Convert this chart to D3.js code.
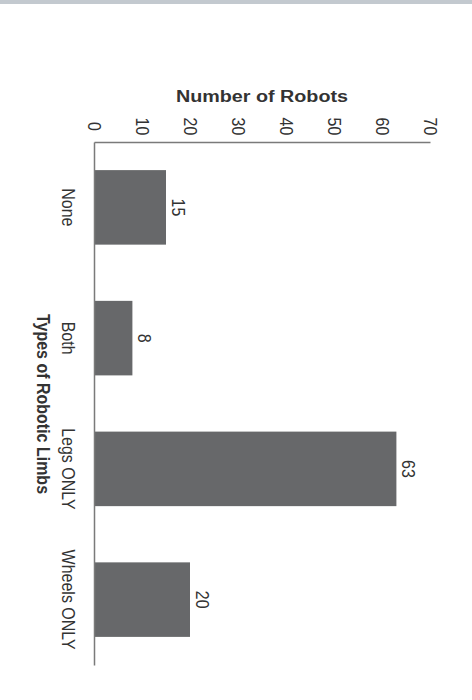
<!DOCTYPE html>
<html>
<head>
<meta charset="utf-8">
<script src="https://cdn.jsdelivr.net/npm/d3@7"></script>
<style>
  html, body { margin: 0; padding: 0; background: #fff; }
  svg { display: block; font-family: "Liberation Sans", Arial, sans-serif; }
</style>
</head>
<body>
<div id="chart"></div>
<script>
// Data
const categories = ['None', 'Both', 'Legs ONLY', 'Wheels ONLY'];
const robotCounts = [15, 8, 63, 20];
const valueTicks = [0, 10, 20, 30, 40, 50, 60, 70];

const width = 472;
const height = 700;
const textColor = '#333';
const axisColor = '#7a7a7a';
const barColor = '#67686a';
const stretch = 1.15; // the picture is a bit wider than tall

const svg = d3.select('#chart')
    .append('svg')
    .attr('width', width)
    .attr('height', height);

// thin grey strip at the top of the scan
svg.append('rect')
    .attr('x', 0)
    .attr('y', 0)
    .attr('width', width)
    .attr('height', 4)
    .attr('fill', '#c3c9cf');

// chart is turned a quarter clockwise: values run left to right, categories top to bottom
const xScale = d3.scaleLinear()
    .domain([0, 70])
    .range([94, 430]);

const yScale = d3.scaleBand()
    .domain(categories)
    .range([142, 665])
    .paddingInner(0.43)
    .paddingOuter(0.215);

const data = categories.map((c, i) => ({ category: c, value: robotCounts[i] }));

// bars
svg.selectAll('.bar')
    .data(data)
    .enter()
    .append('rect')
    .attr('class', 'bar')
    .attr('x', xScale(0))
    .attr('y', d => yScale(d.category))
    .attr('width', d => xScale(d.value) - xScale(0))
    .attr('height', yScale.bandwidth())
    .attr('fill', barColor);

// value axis along the top
const xAxis = svg.append('g')
    .attr('class', 'x-axis')
    .attr('transform', 'translate(0, 142)')
    .call(d3.axisTop(xScale)
        .tickValues(valueTicks)
        .tickSize(0)
        .tickPadding(0));

xAxis.select('.domain')
    .attr('stroke', axisColor)
    .attr('stroke-width', 1.5);

xAxis.selectAll('.tick text')
    .attr('x', 0)
    .attr('y', 0)
    .attr('dy', null)
    .attr('text-anchor', 'middle')
    .attr('dominant-baseline', 'central')
    .attr('transform', `translate(0, -15.5) scale(${stretch}, 1) rotate(90)`)
    .attr('fill', textColor)
    .attr('font-size', 16)
    .attr('font-family', '"Liberation Sans", Arial, sans-serif');

// category axis along the left
const yAxis = svg.append('g')
    .attr('class', 'y-axis')
    .attr('transform', 'translate(94, 0)')
    .call(d3.axisLeft(yScale)
        .tickSize(0)
        .tickPadding(0));

yAxis.select('.domain')
    .attr('stroke', axisColor)
    .attr('stroke-width', 1.5);

yAxis.selectAll('.tick text')
    .attr('x', 0)
    .attr('y', 0)
    .attr('dy', null)
    .attr('text-anchor', 'middle')
    .attr('dominant-baseline', 'central')
    .attr('transform', `translate(-26, 0) scale(${stretch}, 1) rotate(90)`)
    .attr('fill', textColor)
    .attr('font-size', 16)
    .attr('font-family', '"Liberation Sans", Arial, sans-serif');

// value labels at the end of each bar
svg.selectAll('.value-label')
    .data(data)
    .enter()
    .append('text')
    .attr('class', 'value-label')
    .attr('text-anchor', 'middle')
    .attr('dominant-baseline', 'central')
    .attr('transform', d => `translate(${xScale(d.value) + 12}, ${yScale(d.category) + yScale.bandwidth() / 2}) scale(${stretch}, 1) rotate(90)`)
    .attr('fill', textColor)
    .attr('font-size', 16)
    .text(d => d.value);

// axis titles
svg.append('text')
    .attr('class', 'x-axis-label')
    .attr('x', 262)
    .attr('y', 102)
    .attr('text-anchor', 'middle')
    .attr('fill', textColor)
    .attr('font-size', 16)
    .attr('font-weight', 'bold')
    .attr('textLength', 172)
    .attr('lengthAdjust', 'spacingAndGlyphs')
    .text('Number of Robots');

svg.append('text')
    .attr('class', 'y-axis-label')
    .attr('text-anchor', 'middle')
    .attr('dominant-baseline', 'central')
    .attr('transform', `translate(43, 404) scale(${stretch}, 1) rotate(90)`)
    .attr('fill', textColor)
    .attr('font-size', 16)
    .attr('font-weight', 'bold')
    .text('Types of Robotic Limbs');
</script>
</body>
</html>
